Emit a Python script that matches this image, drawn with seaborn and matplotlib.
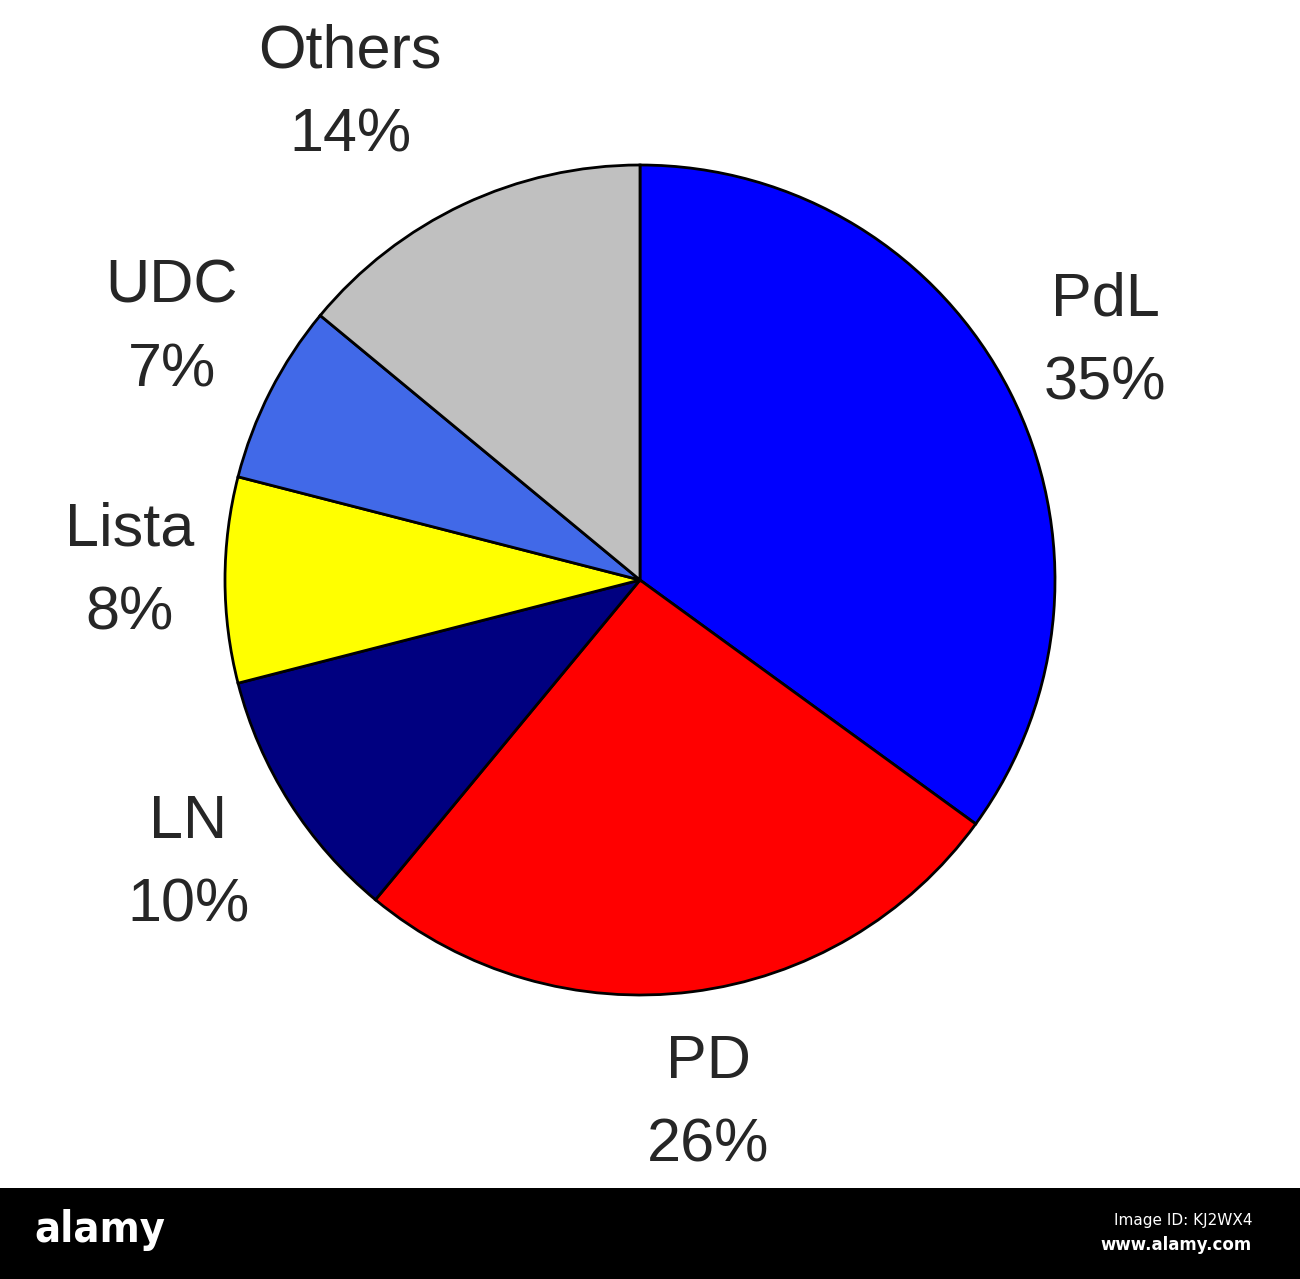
import matplotlib
matplotlib.use("Agg")
import matplotlib.pyplot as plt
import seaborn as sns
from matplotlib.patches import Rectangle

parties = ["PdL", "PD", "LN", "Lista", "UDC", "Others"]
shares = [35, 26, 10, 8, 7, 14]
colors = ["#0000FF", "#FF0000", "#000080", "#FFFF00", "#4169E8", "#C0C0C0"]

sns.set_style("white")
plt.rcParams['font.family'] = ['Liberation Sans', 'DejaVu Sans']

W, H = 1300, 1279
fig = plt.figure(figsize=(W / 100, H / 100), dpi=100)
ax = fig.add_axes([0, 0, 1, 1])

cx, cy, r = 640, H - 580, 415
ax.pie(shares, colors=sns.color_palette(colors), startangle=90, counterclock=False,
       center=(cx, cy), radius=r, frame=True,
       wedgeprops=dict(edgecolor='black', linewidth=2.0))
ax.set_xlim(0, W)
ax.set_ylim(0, H)
ax.set_aspect('equal')
ax.axis('off')

# label positions (pixel coords from top, centre of first line)
label_pos = {
    "PdL": (1105, 300),
    "PD": (708, 1062),
    "LN": (188, 822),
    "Lista": (130, 530),
    "UDC": (172, 287),
    "Others": (350, 52),
}
for p, s in zip(parties, shares):
    x, y = label_pos[p]
    ax.text(x, H - y, p, ha='center', va='center', fontsize=44, color='#262626')
    ax.text(x, H - (y + 84), f"{s}%", ha='center', va='center', fontsize=44, color='#262626')

# watermark bar
fig.patches.append(Rectangle((0, 0), 1, 91 / H, transform=fig.transFigure,
                             facecolor='black', edgecolor='none', zorder=5))
fig.text(100 / W, 1 - 1230 / H, "alamy", color='white', fontsize=31, fontweight='bold',
         family=['DejaVu Sans'], fontstretch='condensed', ha='center', va='center', zorder=6)
fig.text(1252 / W, 1 - 1220 / H, "Image ID: KJ2WX4", color='white', fontsize=11,
         family=['DejaVu Sans'], ha='right', va='center', zorder=6)
fig.text(1252 / W, 1 - 1245 / H, "www.alamy.com", color='white', fontsize=12, fontweight='bold',
         family=['DejaVu Sans'], ha='right', va='center', zorder=6)

fig.savefig("out.png", dpi=100, facecolor='white')
